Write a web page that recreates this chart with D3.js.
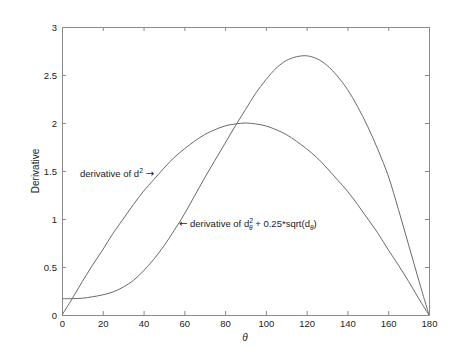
<!DOCTYPE html>
<html>
<head>
<meta charset="utf-8">
<script src="https://cdn.jsdelivr.net/npm/d3@7"></script>
<style>
  body { margin: 0; background: #fff; }
  svg { display: block; font-family: "Liberation Sans", Arial, Helvetica, sans-serif; }
</style>
</head>
<body>
<svg id="chart" width="474" height="355"></svg>
<script>
// values
const theta = [0, 5, 10, 15, 20, 25, 30, 35, 40, 45, 50, 55, 60, 65, 70, 75, 80, 85, 90,
  95, 100, 105, 110, 115, 120, 125, 130, 135, 140, 145, 150, 155, 160, 165, 170, 175, 180];
const derivD2 = [0, 0.17, 0.35, 0.52, 0.68, 0.85, 1.0, 1.15, 1.29, 1.41, 1.53, 1.64, 1.73, 1.81, 1.88, 1.93, 1.97, 1.99, 2.0,
  1.99, 1.97, 1.93, 1.88, 1.81, 1.73, 1.64, 1.53, 1.41, 1.29, 1.15, 1.0, 0.85, 0.68, 0.52, 0.35, 0.17, 0];
const derivMixed = [0.17, 0.17, 0.175, 0.19, 0.21, 0.24, 0.29, 0.36, 0.46, 0.58, 0.72, 0.88, 1.05, 1.24, 1.43, 1.61, 1.79, 1.97, 2.14,
  2.31, 2.45, 2.57, 2.65, 2.69, 2.70, 2.67, 2.60, 2.49, 2.35, 2.17, 1.96, 1.72, 1.45, 1.10, 0.73, 0.36, 0];
const xTicks = [0, 20, 40, 60, 80, 100, 120, 140, 160, 180];
const yTicks = [0, 0.5, 1, 1.5, 2, 2.5, 3];

const svg = d3.select('#chart');
const plotLeft = 62, plotRight = 429, plotTop = 27, plotBottom = 315;

const x = d3.scaleLinear().domain([0, 180]).range([plotLeft, plotRight]);
const y = d3.scaleLinear().domain([0, 3]).range([plotBottom, plotTop]);

const frameColor = '#8a8a8a';
const fontSize = '9.5px';

function styleAxis(g, labels) {
  g.selectAll('path.domain').attr('stroke', frameColor).attr('stroke-width', 1);
  g.selectAll('.tick line').attr('stroke', frameColor);
  g.selectAll('.tick text')
    .attr('fill', '#222')
    .style('font-size', fontSize)
    .style('font-family', '"Liberation Sans", Arial, sans-serif');
  if (!labels) g.selectAll('.tick text').remove();
}

svg.append('g')
  .attr('transform', `translate(0,${plotBottom})`)
  .call(d3.axisBottom(x).tickValues(xTicks).tickSizeInner(-4).tickSizeOuter(0).tickPadding(5).tickFormat(d3.format('d')))
  .call(g => styleAxis(g, true));

svg.append('g')
  .attr('transform', `translate(0,${plotTop})`)
  .call(d3.axisTop(x).tickValues(xTicks).tickSizeInner(-4).tickSizeOuter(0))
  .call(g => styleAxis(g, false));

svg.append('g')
  .attr('transform', `translate(${plotLeft},0)`)
  .call(d3.axisLeft(y).tickValues(yTicks).tickSizeInner(-4).tickSizeOuter(0).tickPadding(5).tickFormat(d3.format('')))
  .call(g => styleAxis(g, true));

svg.append('g')
  .attr('transform', `translate(${plotRight},0)`)
  .call(d3.axisRight(y).tickValues(yTicks).tickSizeInner(-4).tickSizeOuter(0))
  .call(g => styleAxis(g, false));

const line = vals => d3.line()
  .x((d, i) => x(theta[i]))
  .y(d => y(d))
  .curve(d3.curveCatmullRom.alpha(0.5))(vals);

[derivD2, derivMixed].forEach(vals => {
  svg.append('path')
    .attr('d', line(vals))
    .attr('fill', 'none')
    .attr('stroke', '#6a6a6a')
    .attr('stroke-width', 1);
});

// axis labels
svg.append('text')
  .attr('x', 245).attr('y', 341)
  .attr('text-anchor', 'middle')
  .style('font-size', '10px')
  .style('font-style', 'italic')
  .attr('fill', '#222')
  .text('θ');

svg.append('text')
  .attr('transform', `translate(39,${(plotTop + plotBottom) / 2}) rotate(-90)`)
  .attr('text-anchor', 'middle')
  .style('font-size', '10px')
  .attr('fill', '#222')
  .text('Derivative');

// curve annotations
const a1 = svg.append('text')
  .attr('x', 80).attr('y', 177)
  .style('font-size', fontSize)
  .attr('fill', '#222');
a1.append('tspan').text('derivative of d');
a1.append('tspan').attr('dy', -4).style('font-size', '7px').text('2');
a1.append('tspan').attr('dy', 4).text(' ');
a1.append('tspan').style('font-family', '"DejaVu Sans", sans-serif').style('font-size', '10px').text('\u2192');

const a2 = svg.append('text')
  .attr('x', 179).attr('y', 227)
  .style('font-size', fontSize)
  .attr('fill', '#222');
a2.append('tspan').style('font-family', '"DejaVu Sans", sans-serif').style('font-size', '10px').text('\u2190');
a2.append('tspan').text(' derivative of d');
a2.append('tspan').attr('dy', -4).style('font-size', '7px').text('2');
a2.append('tspan').attr('dx', -4).attr('dy', 7).style('font-size', '6.5px').style('font-style', 'italic').text('θ');
a2.append('tspan').attr('dy', -3).text(' + 0.25*sqrt(d');
a2.append('tspan').attr('dy', 3).style('font-size', '6.5px').style('font-style', 'italic').text('θ');
a2.append('tspan').attr('dy', -3).text(')');
</script>
</body>
</html>
